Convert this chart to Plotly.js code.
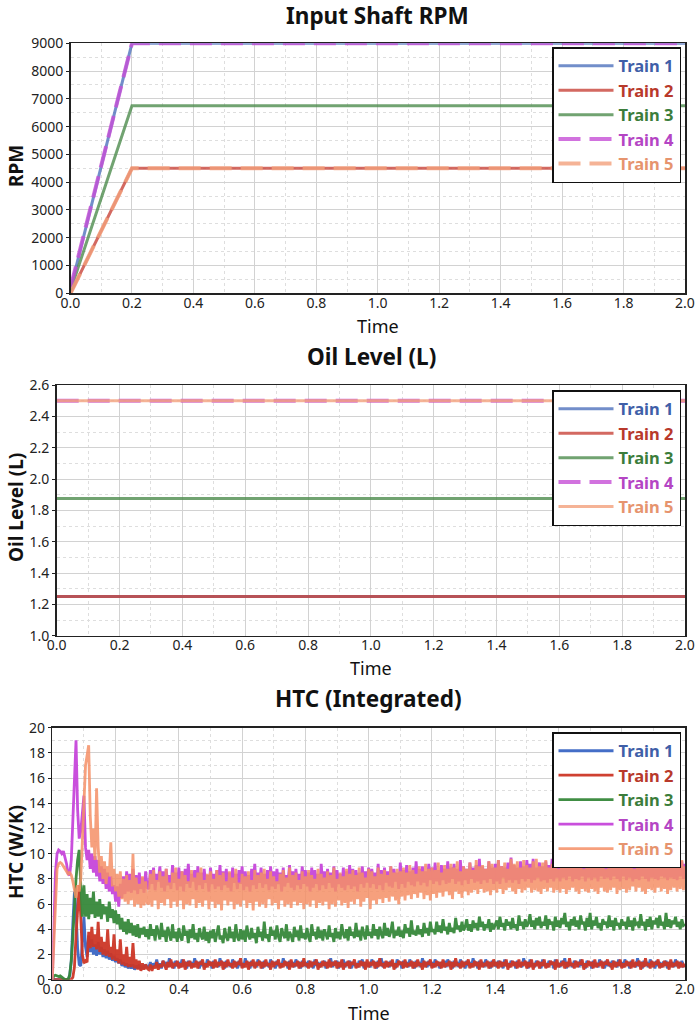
<!DOCTYPE html>
<html><head><meta charset="utf-8">
<script src="https://cdn.plot.ly/plotly-3.0.1.min.js"></script>
<style>html,body{margin:0;padding:0;background:#fff}#chart{width:698px;height:1029px}</style>
</head><body><div id="chart"></div>
<script>
const trainNames = ['Train 1','Train 2','Train 3','Train 4','Train 5'];

// ---- Input Shaft RPM ----
const rpmTime   = [0, 0.2, 2.0];
const rpmTrain1 = [150, 9000, 9000];
const rpmTrain2 = [0, 4500, 4500];
const rpmTrain3 = [100, 6750, 6750];
const rpmTrain4 = [200, 9000, 9000];
const rpmTrain5 = [0, 4500, 4500];

// ---- Oil Level (L) ----
const oilTime   = [0, 2.0];
const oilTrain1 = [1.25, 1.25];
const oilTrain2 = [1.25, 1.25];
const oilTrain3 = [1.875, 1.875];
const oilTrain4 = [2.5, 2.5];
const oilTrain5 = [2.5, 2.5];

// ---- HTC (Integrated) ----  one sample every 0.005 s from 0 to 2.0 (401 values)
const htcTrain1 = [
0,0,0,0,0,0,0,0,0,0,
0,0.3,1.5,4.5,7.0,5.5,2.5,1.2,1.1,3.0,
5.0,2.6,1.8,3.5,2.2,3.2,2.0,2.8,1.9,3.0,
2.0,2.6,1.8,2.4,1.7,2.3,1.6,2.1,1.5,1.9,
1.4,1.7,1.3,1.6,1.1,1.4,1.0,1.3,0.9,1.2,
0.9,1.2,0.8,1.1,0.9,1.2,0.8,1.1,0.9,1.2,1.0,
1.0,1.4,0.9,1.3,1.1,1.6,1.0,1.3,0.9,1.5,
1.1,1.4,1.0,1.7,1.2,1.3,0.9,1.5,1.1,1.4,
1.0,1.6,1.2,1.3,0.9,1.5,1.1,1.4,1.0,1.7,
1.2,1.4,0.9,1.5,1.1,1.3,1.0,1.6,1.2,1.4,
0.9,1.5,1.1,1.3,1.0,1.7,1.2,1.4,0.9,1.5,
1.1,1.3,1.0,1.6,1.2,1.4,0.9,1.5,1.1,1.3,
1.0,1.7,1.2,1.4,0.9,1.5,1.1,1.3,1.0,1.6,
1.2,1.4,0.9,1.5,1.1,1.3,1.0,1.6,1.2,1.4,
0.9,1.5,1.1,1.3,1.0,1.7,1.2,1.4,0.9,1.5,
1.1,1.4,1.0,1.6,1.2,1.3,0.9,1.5,1.1,1.4,
1.0,1.5,1.2,1.3,0.9,1.6,1.1,1.4,1.0,1.3,
1.2,1.5,0.9,1.4,1.1,1.7,1.0,1.3,1.2,1.5,
0.9,1.4,1.1,1.6,1.0,1.3,1.2,1.5,0.9,1.4,
1.1,1.3,1.0,1.5,1.2,1.6,0.9,1.4,1.1,1.3,
1.0,1.6,1.2,1.4,0.9,1.5,1.1,1.7,1.0,1.3,
1.2,1.4,1.0,1.5,1.1,1.3,0.9,1.6,1.2,1.4,
0.9,1.5,1.1,1.4,1.0,1.6,1.2,1.3,0.9,1.5,
1.1,1.4,1.0,1.7,1.2,1.3,1.0,1.5,1.1,1.4,
1.0,1.6,1.2,1.3,0.9,1.4,1.1,1.5,1.0,1.6,
1.2,1.3,0.9,1.5,1.1,1.4,1.0,1.6,1.2,1.3,
0.9,1.5,1.1,1.4,1.0,1.7,1.2,1.3,0.9,1.5,
1.1,1.4,1.0,1.6,1.2,1.3,0.9,1.5,1.1,1.4,
1.0,1.5,1.2,1.4,0.9,1.6,1.1,1.3,1.0,1.5,
1.2,1.4,0.9,1.5,1.1,1.3,1.0,1.7,1.2,1.4,
0.9,1.6,1.1,1.3,1.0,1.5,1.2,1.4,0.9,1.6,
1.1,1.3,1.0,1.5,1.2,1.4,0.9,1.6,1.1,1.3,
1.0,1.5,1.2,1.7,0.9,1.4,1.1,1.3,1.0,1.5,
1.2,1.4,1.0,1.6,1.1,1.3,0.9,1.5,1.2,1.4,
0.9,1.5,1.1,1.3,1.0,1.6,1.2,1.4,0.9,1.5,
1.1,1.4,1.0,1.5,1.2,1.3,1.0,1.6,1.1,1.4,
1.0,1.6,1.2,1.4,0.9,1.5,1.1,1.3,1.0,1.7,
1.2,1.3,0.9,1.5,1.1,1.4,1.0,1.6,1.2,1.4,
0.9,1.5,1.1,1.4,1.0,1.3,1.2,1.5,0.9,1.4,
1.1,1.4,1.0,1.6,1.2,1.3,1.0,1.5,1.1,1.2];
const htcTrain2 = [
0,0,0,0,0,0,0,0,0,0,
0,0,0,0.2,1.0,3.5,6.0,7.5,5.0,2.0,
1.3,1.5,1.4,3.8,2.5,4.2,2.6,3.6,2.4,4.6,
2.2,3.4,2.0,3.0,1.9,4.0,1.8,2.6,1.6,3.6,
1.5,2.4,1.3,3.2,1.2,2.0,1.1,2.6,1.0,1.8,
1.0,2.9,0.9,1.6,0.8,1.5,0.7,1.3,0.8,1.2,0.9,
0.8,1.2,0.7,1.1,0.9,1.4,0.8,1.2,1.0,1.5,
1.1,0.8,1.4,1.0,1.6,0.9,1.3,1.1,1.5,0.9,
1.3,1.0,1.6,0.8,1.4,1.1,1.5,0.9,1.3,1.0,
1.5,0.9,1.4,1.2,1.6,0.8,1.3,1.0,1.5,1.1,
1.4,0.9,1.6,1.0,1.3,1.2,1.5,0.8,1.4,1.0,
1.6,1.1,1.3,0.9,1.5,1.0,1.4,1.2,1.7,0.9,
1.3,1.0,1.5,0.8,1.4,1.1,1.6,0.9,1.3,1.2,
1.5,0.9,1.4,1.0,1.6,1.1,1.3,0.8,1.5,1.0,
1.4,1.2,1.6,0.9,1.3,1.0,1.5,1.1,1.4,0.8,
1.6,1.0,1.3,1.1,1.5,0.9,1.4,1.0,1.7,1.1,
1.3,0.9,1.5,1.0,1.4,1.2,1.6,0.8,1.3,1.0,
1.5,1.1,1.4,0.9,1.6,1.0,1.3,1.2,1.5,0.9,
1.4,1.0,1.6,0.8,1.3,1.1,1.5,0.9,1.4,1.2,
1.6,0.9,1.3,1.0,1.5,1.1,1.4,0.8,1.6,1.0,
1.3,1.2,1.5,0.9,1.4,1.0,1.7,1.1,1.3,0.9,
1.5,1.0,1.4,1.1,1.6,0.8,1.3,1.0,1.5,1.2,
1.4,0.9,1.6,1.0,1.3,1.1,1.5,0.9,1.4,1.0,
1.6,1.1,1.3,0.8,1.5,1.0,1.4,1.2,1.6,0.9,
1.3,1.0,1.5,1.1,1.4,0.9,1.6,1.0,1.3,1.1,
1.5,0.8,1.4,1.0,1.7,1.1,1.3,0.9,1.5,1.0,
1.4,1.2,1.6,0.9,1.3,1.0,1.5,1.1,1.4,0.8,
1.6,1.0,1.3,1.1,1.5,0.9,1.4,1.0,1.6,1.2,
1.3,0.9,1.5,1.0,1.4,1.1,1.6,0.8,1.3,1.0,
1.5,1.1,1.4,0.9,1.6,1.0,1.3,1.2,1.5,0.9,
1.4,1.0,1.6,0.8,1.3,1.1,1.5,0.9,1.4,1.1,
1.6,0.9,1.3,1.0,1.5,1.2,1.4,0.8,1.6,1.0,
1.3,1.1,1.5,0.9,1.4,1.0,1.7,1.1,1.3,0.9,
1.5,1.0,1.4,1.2,1.6,0.8,1.3,1.0,1.5,1.1,
1.4,0.9,1.6,1.0,1.3,1.1,1.5,0.9,1.4,1.2,
1.6,1.1,1.3,0.8,1.5,1.0,1.4,1.1,1.6,0.9,
1.3,1.0,1.5,1.1,1.4,0.9,1.6,1.0,1.3,1.2,
1.5,0.8,1.4,1.0,1.7,1.1,1.3,0.9,1.5,1.0,
1.4,1.2,1.6,0.9,1.3,1.0,1.5,1.1,1.4,0.8,
1.6,1.0,1.3,1.1,1.5,0.9,1.4,1.0,1.2,1.0];
const htcTrain3 = [
0,0.3,0.35,0.3,0.25,0.3,0.2,0.1,0,0,
0,0.4,1.5,3.5,6.0,8.0,9.5,10.3,7.5,5.0,
7.5,5.0,6.8,4.8,6.5,5.2,7.0,4.9,6.2,5.0,
6.4,4.8,6.0,5.2,5.8,4.6,6.2,4.9,5.6,4.5,
5.5,4.4,5.2,4.0,4.9,3.8,4.6,3.6,4.8,3.7,
4.5,3.5,4.3,3.4,4.4,3.3,4.1,3.6,4.2,3.4,4.0,
3.2,4.4,3.5,4.0,3.1,4.3,3.6,3.2,4.5,3.4,
3.9,3.0,4.2,3.6,3.1,4.4,3.3,3.8,3.0,4.1,
3.4,3.1,4.3,3.5,3.9,2.9,4.0,3.3,4.4,3.2,
3.7,3.0,4.1,3.5,3.2,4.2,3.1,3.8,2.9,3.9,
3.3,4.0,3.0,3.6,4.3,3.2,3.5,2.9,4.1,3.4,
3.1,4.2,3.3,3.8,3.0,4.4,3.4,3.1,4.0,3.2,
3.9,3.0,4.3,3.5,3.2,4.1,3.3,3.7,2.9,4.2,
3.4,3.8,3.1,4.6,3.3,3.6,3.0,4.2,3.5,3.9,
3.2,4.3,3.4,3.0,4.1,3.6,3.3,4.4,3.1,3.8,
3.5,3.0,4.2,3.4,3.9,3.1,4.3,3.3,3.7,3.2,
4.1,3.4,3.0,4.4,3.5,3.8,3.2,4.2,3.3,3.9,
3.1,4.0,3.5,3.2,4.3,3.4,3.7,3.0,4.1,3.3,
3.8,3.2,4.4,3.6,3.3,4.0,3.1,4.2,3.5,3.8,
3.3,4.5,3.4,3.9,3.1,4.2,3.6,3.2,4.3,3.5,
3.8,3.3,4.4,3.5,4.0,3.2,4.2,3.6,3.3,4.5,
3.5,4.1,3.4,3.8,4.6,3.3,3.9,3.5,4.2,3.4,
3.9,3.3,4.4,3.7,4.1,3.4,4.7,3.6,3.9,3.5,
4.3,3.6,4.0,3.4,4.5,3.7,4.1,3.5,4.6,3.8,
4.0,3.6,4.6,3.8,4.3,3.7,4.8,3.9,4.2,3.6,
4.5,3.8,4.1,3.7,4.9,4.0,4.3,3.8,4.6,3.9,
4.2,4.8,3.9,4.4,3.8,4.7,4.1,4.5,3.9,5.0,
4.2,4.6,3.9,4.4,4.1,4.8,3.8,4.5,4.0,4.3,
4.7,4.0,5.0,4.2,4.5,3.9,4.8,4.3,4.6,4.0,
4.9,4.1,4.4,3.9,5.1,4.3,4.6,4.0,4.8,4.2,
4.5,5.2,4.2,4.7,4.0,4.9,4.3,5.0,4.1,4.6,
4.3,5.1,4.0,4.8,4.4,4.6,3.9,5.0,4.2,4.7,
4.1,4.9,4.4,5.3,4.2,4.6,3.9,4.8,4.3,5.0,
4.2,4.7,4.0,5.1,4.4,4.6,3.9,4.9,4.2,5.3,
4.0,4.7,4.3,5.0,4.1,4.5,3.9,4.8,4.4,4.6,
4.1,5.1,4.2,4.7,3.9,4.9,4.3,4.5,4.0,4.8,
4.3,4.6,4.0,5.0,4.2,4.7,3.9,4.9,4.4,4.5,
4.1,5.2,4.3,4.6,3.9,4.8,4.2,5.0,4.0,4.7,
4.4,4.9,4.1,5.1,4.3,4.6,4.0,5.3,4.2,4.8,
4.1,4.7,4.4,5.0,4.2,4.6,4.0,4.8,4.3,4.4];
const htcTrain4 = [
0,4.0,8.5,10.0,10.3,10.2,10.0,10.2,9.8,9.2,
8.4,8.3,9.5,12.5,16.5,19.0,13.5,11.2,11.8,13.5,
14.6,10.5,9.5,10.3,8.8,10.0,8.5,9.8,8.2,9.5,
7.8,9.0,7.6,8.8,7.2,8.5,7.0,8.2,6.8,7.5,
6.2,7.4,5.8,7.6,6.5,8.2,6.8,8.6,7.0,8.4,
6.9,8.8,7.1,8.3,6.8,8.5,7.2,8.1,6.9,8.6,7.3,
7.2,8.7,7.6,8.9,7.1,8.4,7.8,9.0,7.3,8.6,
7.0,8.8,7.5,8.3,7.2,9.1,7.7,8.5,7.1,8.9,
7.4,8.6,7.0,8.8,7.6,9.2,7.3,8.4,7.8,8.7,
7.1,9.0,7.5,8.5,7.2,8.8,7.7,8.3,7.0,8.9,
7.6,8.4,7.2,8.7,7.4,9.1,7.1,8.6,7.5,8.8,
7.3,8.5,7.0,8.9,7.7,8.4,7.2,8.7,7.6,9.0,
7.1,8.6,7.4,8.3,7.0,8.8,7.5,9.2,7.2,8.5,
7.7,8.9,7.3,8.4,7.6,8.7,7.1,9.0,7.4,8.6,
7.2,8.8,7.6,8.5,7.0,8.9,7.4,8.3,7.7,9.1,
7.3,8.6,7.1,8.8,7.5,8.4,7.2,9.0,7.6,8.7,
7.4,8.5,7.0,8.9,7.3,8.7,7.6,8.4,7.1,9.2,
7.5,8.6,7.2,8.8,7.7,8.5,7.3,9.0,7.0,8.7,
7.6,8.4,7.3,8.9,7.1,8.6,7.5,9.1,7.2,8.8,
7.4,8.7,7.0,8.5,7.6,9.0,7.3,8.6,7.7,8.9,
7.3,8.8,7.6,8.5,7.2,9.2,7.5,8.7,7.1,8.9,
7.7,8.6,7.4,9.0,7.3,8.8,7.8,8.5,7.2,9.3,
7.6,8.7,7.3,9.1,7.8,8.6,7.5,8.9,7.4,9.4,
7.8,8.8,7.5,9.0,7.7,8.6,7.4,9.2,7.9,8.9,
7.6,9.3,7.8,8.7,7.5,9.1,7.9,8.8,7.6,9.4,
7.7,8.9,8.0,9.2,7.6,8.8,7.8,9.5,7.5,9.0,
7.9,8.8,7.6,9.3,8.0,8.9,7.7,9.1,7.8,9.6,
7.6,9.0,7.9,8.8,7.7,9.4,8.0,8.9,7.6,9.2,
7.8,9.5,7.6,9.0,8.1,8.9,7.7,9.3,7.9,9.7,
7.7,9.1,7.9,8.9,7.6,9.4,8.0,9.0,7.8,9.5,
8.0,9.2,7.7,9.6,7.9,8.9,8.1,9.3,7.8,9.0,
7.9,9.4,7.7,9.1,8.0,9.6,7.8,8.9,8.1,9.3,
7.8,9.2,8.1,9.5,7.9,9.0,8.2,9.4,7.8,9.7,
8.0,9.1,7.9,9.3,8.2,9.6,7.8,9.2,8.1,9.0,
7.9,9.5,8.1,9.2,7.8,9.4,8.2,9.0,8.0,9.6,
8.1,9.3,7.9,9.1,8.2,9.5,8.0,9.2,7.8,9.4,
8.2,9.0,7.9,9.6,8.1,9.2,7.8,9.4,8.0,9.1,
7.9,9.5,8.2,9.1,8.0,9.3,7.8,9.7,8.1,9.2,
8.0,9.4,7.9,9.0,8.2,9.5,8.1,9.2,7.9,9.6,
8.1,9.3,8.0,9.5,7.9,9.1,8.2,9.4,8.0,9.2];
const htcTrain5 = [
0,3.0,7.0,8.8,9.2,9.3,9.2,9.0,8.8,8.6,
8.4,8.5,8.3,7.8,7.0,6.5,7.5,7.0,8.0,10.5,
14.0,17.0,18.0,18.6,13.0,10.5,12.0,9.5,15.2,10.5,
8.5,9.8,8.0,9.4,7.6,9.0,8.2,10.9,7.4,8.8,
7.0,8.4,6.6,8.6,6.4,8.0,6.2,8.3,6.0,7.9,
6.3,10.0,5.8,8.1,6.0,7.6,5.7,8.2,5.9,7.8,6.1,
6.0,8.4,5.8,8.7,6.3,7.9,5.6,8.6,6.1,8.2,
5.9,8.8,6.4,7.7,5.7,8.5,6.2,8.9,5.8,8.0,
6.3,8.6,5.6,8.3,6.0,7.8,5.9,8.7,6.4,8.1,
5.7,8.5,6.1,8.9,5.8,7.9,6.3,8.4,5.6,8.6,
6.2,8.0,5.7,8.7,6.0,8.3,5.5,8.5,6.3,7.8,
5.9,8.6,6.2,8.1,5.6,8.8,6.0,7.7,5.8,8.4,
6.3,8.2,5.7,8.6,6.1,7.9,5.5,8.7,6.2,8.3,
5.8,8.5,6.0,8.8,5.7,8.0,6.4,8.6,5.9,8.2,
6.1,7.8,5.6,8.4,6.3,8.7,5.8,8.1,6.0,8.9,
5.7,8.3,6.2,8.5,5.9,7.9,6.1,8.6,5.6,8.2,
6.0,8.7,5.8,8.3,6.3,8.0,5.7,8.8,6.1,8.4,
5.9,8.1,6.2,8.6,5.6,8.3,6.0,8.9,5.8,8.0,
6.3,8.5,5.9,8.2,6.1,8.8,5.7,8.4,6.2,8.7,
6.0,8.3,6.4,8.9,5.8,8.5,6.2,8.1,6.5,8.8,
5.6,8.6,6.3,8.2,6.0,8.9,6.4,8.4,6.1,8.7,
6.5,8.3,6.2,9.0,6.6,8.5,6.3,8.8,6.0,8.6,
6.6,8.9,6.3,8.5,6.7,9.1,6.4,8.7,6.8,8.4,
6.5,9.0,6.9,8.6,6.4,9.2,6.7,8.8,6.3,8.9,
6.8,8.7,6.5,9.3,6.9,8.5,6.6,9.1,7.0,8.8,
6.7,9.2,6.4,8.9,7.0,9.4,6.8,8.6,6.5,9.0,
7.0,8.8,6.7,9.3,6.9,8.7,7.1,9.5,6.8,9.0,
7.2,9.1,6.9,8.8,7.0,9.4,6.7,9.2,7.1,8.9,
6.9,9.5,7.2,9.0,6.8,9.3,7.1,8.8,7.3,9.6,
7.0,9.2,6.8,9.4,7.2,8.9,6.9,9.5,7.1,9.1,
7.3,8.9,6.9,9.4,7.1,9.6,7.0,9.0,6.8,9.3,
7.2,9.5,7.0,8.9,7.3,9.2,6.9,9.6,7.1,8.8,
6.9,9.3,7.2,9.0,6.8,9.4,7.1,8.9,7.3,9.5,
7.0,9.1,6.8,9.5,7.2,8.8,7.0,9.3,6.9,9.6,
7.2,8.9,7.0,9.4,6.8,9.1,7.3,9.5,7.0,8.8,
6.9,9.3,7.1,9.0,7.3,9.6,6.8,9.2,7.1,9.4,
7.2,8.9,6.9,9.5,7.1,9.1,7.4,8.8,7.0,9.3,
7.3,9.6,7.0,9.2,6.8,9.4,7.2,8.9,7.1,9.5,
6.9,9.1,7.3,9.4,7.0,9.0,7.2,9.6,6.8,9.2,
7.1,9.4,7.3,8.9,7.0,9.3,7.2,9.5,7.1,9.0];
// sampling grid of the HTC signals (0.005 s step)
const htcTime = [];
for (let i = 0; i <= 400; i++) htcTime.push(i / 200);

const W = 698, H = 1029;
const FONT = '"Noto Sans", "Open Sans", sans-serif';
const lineCols = ['#4f72bd','#c8443a','#4e8c4e','#c64fd6','#f2a07c'];
const htcCols  = ['#3a66c4','#cc3626','#36883a','#c646da','#f58f66'];
const textCols = ['#3f5fa8','#b8392b','#3b7d3b','#b445c4','#e6946e'];
const lbl = i => '<span style="color:' + textCols[i] + '">' + trainNames[i] + '</span>';

const traces = [];
const rpmY = [rpmTrain1, rpmTrain2, rpmTrain3, rpmTrain4, rpmTrain5];
const rpmDash = ['solid','solid','solid','22px,9px','22px,9px'];
rpmY.forEach((y, i) => traces.push({
  x: rpmTime, y: y, type: 'scatter', mode: 'lines', name: lbl(i),
  xaxis: 'x', yaxis: 'y', legend: 'legend', opacity: 0.8,
  line: {color: lineCols[i], width: i >= 3 ? 4 : 3, dash: rpmDash[i]}
}));
const oilY = [oilTrain1, oilTrain2, oilTrain3, oilTrain4, oilTrain5];
const oilDash = ['solid','solid','solid','22px,9px','solid'];
oilY.forEach((y, i) => traces.push({
  x: oilTime, y: y, type: 'scatter', mode: 'lines', name: lbl(i),
  xaxis: 'x2', yaxis: 'y2', legend: 'legend2', opacity: 0.8,
  line: {color: lineCols[i], width: i === 3 ? 4 : 3, dash: oilDash[i]}
}));
const htcY = [htcTrain1, htcTrain2, htcTrain3, htcTrain4, htcTrain5];
htcY.forEach((y, i) => traces.push({
  x: htcTime, y: y, type: 'scatter', mode: 'lines', name: lbl(i),
  xaxis: 'x3', yaxis: 'y3', legend: 'legend3', opacity: i === 4 ? 0.85 : 0.95,
  line: {color: htcCols[i], width: 2.8}
}));

const px = v => v / W, py = v => 1 - v / H;
const gridCommon = {
  showline: true, mirror: true, linecolor: '#222', linewidth: 1.5,
  showgrid: true, gridcolor: '#d2d2d2', gridwidth: 1, zeroline: false,
  tickfont: {family: FONT, size: 14, color: '#222'}
};
const xAx = (dom, anchor) => Object.assign({}, gridCommon, {
  domain: dom, anchor: anchor, range: [0, 2], dtick: 0.2, tick0: 0, tickformat: '.1f',
  ticks: '', ticklabelstandoff: -4,
  minor: {dtick: 0.1, showgrid: true, gridcolor: '#dedede', griddash: 'dot', ticks: ''}
});
const yAx = (dom, anchor, range, dtick, mdt, fmt) => Object.assign({}, gridCommon, {
  domain: dom, anchor: anchor, range: range, dtick: dtick, tick0: 0, tickformat: fmt,
  ticks: 'outside', ticklen: 3, tickcolor: '#222',
  minor: {dtick: mdt, showgrid: true, gridcolor: '#dedede', griddash: 'dot', ticks: ''}
});
const legendCommon = y => ({
  xref: 'paper', yref: 'paper', x: px(681), xanchor: 'right', y: py(y), yanchor: 'top',
  bgcolor: '#ffffff', bordercolor: '#111', borderwidth: 1.5, itemwidth: 55,
  font: {family: FONT, size: 16.5, weight: 700}, tracegroupgap: 0
});
const ann = (text, x, y, size, bold, angle) => ({
  text: bold ? '<b>' + text + '</b>' : text, x: px(x), y: py(y), xref: 'paper', yref: 'paper',
  xanchor: 'center', yanchor: 'middle', showarrow: false, textangle: angle || 0,
  font: {family: FONT, size: size, color: '#111'}
});

const layout = {
  width: W, height: H, margin: {l: 0, r: 0, t: 0, b: 0},
  paper_bgcolor: '#fff', plot_bgcolor: '#fff', showlegend: true,
  xaxis:  xAx([px(70.5), px(685)], 'y'),
  yaxis:  yAx([py(293.3), py(43.3)], 'x', [0, 9000], 1000, 500, 'd'),
  xaxis2: xAx([px(56.7), px(685)], 'y2'),
  yaxis2: yAx([py(635.7), py(385)], 'x2', [1, 2.6], 0.2, 0.1, '.1f'),
  xaxis3: xAx([px(52.3), px(685)], 'y3'),
  yaxis3: yAx([py(979.7), py(727.7)], 'x3', [0, 20], 2, 1, 'd'),
  legend: legendCommon(47),
  legend2: legendCommon(390),
  legend3: legendCommon(732),
  annotations: [
    ann('Input Shaft RPM', 377.5, 15.5, 22.5, true),
    ann('Time', 377.5, 326, 18, false),
    ann('RPM', 16, 166, 19, true, -90),
    ann('Oil Level (L)', 371, 356, 22.5, true),
    ann('Time', 371, 668, 18, false),
    ann('Oil Level (L)', 16, 508, 19, true, -90),
    ann('HTC (Integrated)', 368.5, 698, 22.5, true),
    ann('Time', 368.5, 1013, 18, false),
    ann('HTC (W/K)', 16, 852, 19, true, -90)
  ]
};
Plotly.newPlot('chart', traces, layout, {displayModeBar: false, staticPlot: true});
</script></body></html>
